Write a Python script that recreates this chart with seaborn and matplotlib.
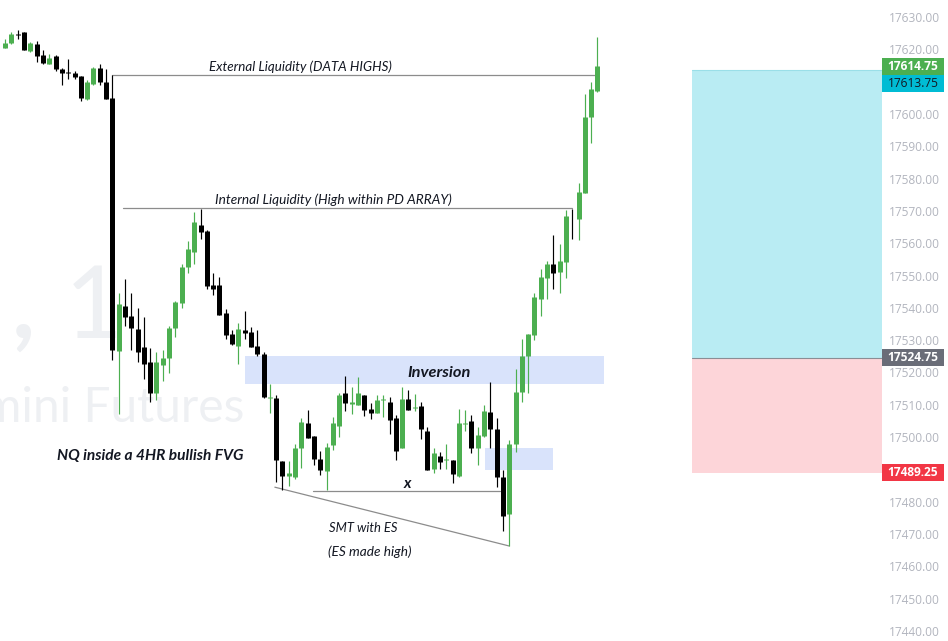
import matplotlib
matplotlib.use("Agg")
import matplotlib.pyplot as plt
from matplotlib.patches import Rectangle
from matplotlib.transforms import blended_transform_factory
import numpy as np
import pandas as pd
import seaborn as sns

opens = [17622,17620.5,17622,17624.75,17625.25,17619.5,17621.75,17618.25,17615.5,17618,17614,17613,17612.75,17611.75,17604.75,17609.25,17614.25,17610,
 17605,17526.75,17540.5,17537.5,17533.5,17527.75,17523.25,17513.75,17522.25,17524.5,17533.75,17541.5,17552.5,17557.25,17565.75,17563.75,17547,17547,17538.25,17531.75,
 17528.25,17533,17532.5,17528.25,17525.75,17512,17512,17492.5,17488,17487.75,17496.5,17504.5,17500.25,17493.25,17489.5,17497.5,17503.5,17513.75,17510.25,17510,
 17513,17508.75,17507.5,17511.5,17510.75,17506,17496.5,17511.75,17509,17509.5,17501.75,17490,17494.25,17493,17493,17488,17504,17505,17496.5,17500.25,
 17507.75,17502.5,17487.75,17476.25,17498,17514,17525,17531.5,17542.75,17549.25,17553.5,17551,17554.25,17568.25,17567.5,17575.5,17599,17607]
highs = [17622,17623.25,17625.25,17626,17625.25,17622.25,17622.5,17619.75,17618.5,17618.25,17614.25,17617,17613.25,17611.75,17610.5,17614.5,17615.5,17614,
 17612,17544.5,17549,17544.5,17540,17537.25,17527.5,17526.25,17527,17534.5,17542.25,17553.5,17560.75,17569.75,17570.5,17564,17550.75,17549.5,17539.5,17533,
 17535.25,17539,17534,17533,17526.25,17516.5,17513,17492.5,17492.5,17498,17506,17508.5,17500.25,17495.75,17498.25,17506.25,17513.75,17519,17515.5,17518.75,
 17513,17510.5,17513,17513,17512.5,17506.75,17515.5,17514.5,17513.25,17510.75,17503,17496.75,17495.5,17498,17493,17508.75,17508.5,17506.75,17503,17510,
 17517,17506,17489.75,17499,17521,17530.5,17532,17544.5,17552,17554.5,17562.5,17559.75,17570.25,17570.5,17578.75,17606.25,17610,17623.75]
lows = [17620.5,17620.5,17621.75,17623.25,17619.75,17619.25,17616,17615.5,17615.5,17613.25,17609,17610.75,17610.75,17604,17604.25,17609,17609,17604.75,
 17523.75,17507.25,17534.5,17527,17523.25,17518,17510.75,17511.5,17517.25,17519.75,17531,17540,17550.75,17553.5,17561.25,17545.75,17544,17537.75,17530.5,17528.5,
 17522.75,17530.5,17527.75,17525,17512,17507.5,17486,17483.5,17485,17487,17490.5,17499.75,17491.5,17488.25,17483.75,17496,17500,17508,17507.25,17510,
 17506.5,17505.5,17507.5,17506.25,17501,17493,17496.5,17508.5,17508,17499.5,17489.75,17489,17490,17490,17485.75,17487.75,17502,17495,17491.5,17500,
 17496.75,17484.5,17471,17466.25,17495.5,17510.75,17513.75,17530,17537.5,17542.75,17545.75,17544.5,17549.25,17561.25,17561,17575.5,17591,17606.75]
closes = [17620.5,17622,17624.75,17624.5,17619.75,17622,17618,17615.75,17617.25,17614,17612.75,17612.75,17611.5,17605,17610,17614.25,17610,17604.75,
 17527,17541.25,17537.25,17533.75,17526.25,17522.75,17513.75,17523.25,17524.5,17533.75,17541.75,17552.5,17558.25,17566.5,17563.5,17546.75,17545.75,17537.75,17531.5,17528.75,
 17533.5,17532.25,17528,17525.75,17512.5,17512.5,17493,17488,17489,17496.75,17504.75,17499.75,17493.25,17489.75,17497,17504.5,17513,17510.5,17510.75,17513.75,
 17508.5,17507.5,17511.5,17511.75,17505.25,17495.75,17511.75,17508.5,17509.25,17502.5,17489.75,17495,17492.25,17493.25,17488.5,17504.5,17504.5,17496.75,17500.75,17508,
 17502.5,17487.75,17475.5,17498,17514,17525,17531.75,17543.25,17549.5,17553.5,17550.75,17554.5,17568.5,17568,17575.75,17599,17607.75,17614.75]

# 17610 and 17490 are covered by price tags in the reference
price_ticks = [17440, 17450, 17460, 17470, 17480, 17500, 17510, 17520, 17530, 17540, 17550,
               17560, 17570, 17580, 17590, 17600, 17620, 17630]
tag_prices = [17614.75, 17613.75, 17524.75, 17489.25]
tag_colors = ["#4caf50", "#00bcd4", "#6a6d78", "#f23645"]
tag_text_colors = ["white", "#131722", "white", "white"]

GREEN = "#4caf50"
sns.set_theme(style="white", rc={"axes.facecolor": "white", "figure.facecolor": "white"})
ANNOT = "Lato"
AXF = "Open Sans"

fig = plt.figure(figsize=(9.48, 6.41), dpi=100)
ax = fig.add_axes([0, 0, 882 / 948, 1])
ax.set_xlim(0.175, 140.17)
ax.set_ylim(17436.9, 17635.26)

# watermark
WM = "#eef0f3"
ax.text(-2.68, 17504.7, "mini Futures", fontsize=34.5, color=WM, family=ANNOT, ha="left", va="baseline", zorder=0, clip_on=True)
ax.text(2.0, 17530.7, ",", fontsize=72, color=WM, family=ANNOT, fontweight="bold", ha="left", va="baseline", zorder=0)
ax.text(10.5, 17530.7, "1", fontsize=72, color=WM, family=ANNOT, ha="left", va="baseline", zorder=0)

# zones
ax.add_patch(Rectangle((39.03, 17516.4), 57.0, 8.7, color="#d9e3fb", lw=0, zorder=1))
ax.add_patch(Rectangle((77.15, 17489.8), 10.8, 6.8, color="#d9e3fb", lw=0, zorder=1))
ax.add_patch(Rectangle((110, 17524.5), 30.17, 17613.5 - 17524.5, color="#b9ecf3", lw=0, zorder=1))
ax.add_patch(Rectangle((110, 17488.9), 30.17, 17524.5 - 17488.9, color="#fdd5d9", lw=0, zorder=1))
ax.plot([110, 140.17], [17524.5, 17524.5], color="#8a8d94", lw=0.8, zorder=1.5)
ax.plot([110, 140.17], [17613.5, 17613.5], color="#9adfe8", lw=0.8, zorder=1.5)

# reference lines
line = dict(color="#8c8c8c", lw=0.9, zorder=2)
ax.plot([18, 95], [17612, 17612], **line)
ax.plot([19.7, 91], [17570.9, 17570.9], **line)
ax.plot([49.85, 79.5], [17483.3, 17483.3], **line)
ax.plot([43.8, 81], [17484.5, 17466.3], **line)

# candles through seaborn
idx = np.arange(len(opens))
direction = np.where(np.array(closes) >= np.array(opens), "up", "down")
pal = {"up": GREEN, "down": "#000000"}
wicks = pd.DataFrame({"i": np.r_[idx, idx], "price": np.r_[lows, highs], "dir": np.r_[direction, direction]})
bodies = pd.DataFrame({"i": np.r_[idx, idx], "price": np.r_[opens, closes], "dir": np.r_[direction, direction]})
sns.lineplot(data=wicks, x="i", y="price", hue="dir", units="i", estimator=None, palette=pal,
             linewidth=0.85, legend=False, ax=ax, solid_capstyle="butt", zorder=3, sort=False)
sns.lineplot(data=bodies, x="i", y="price", hue="dir", units="i", estimator=None, palette=pal,
             linewidth=3.6, legend=False, ax=ax, solid_capstyle="butt", zorder=4, sort=False)

# annotations
anno = dict(family=ANNOT, style="italic", color="#131722", ha="center", va="center", zorder=6)
ax.text(47.8, 17614.5, "External Liquidity (DATA HIGHS)", fontsize=9.65, **anno)
ax.text(53.1, 17573.4, "Internal Liquidity (High within PD ARRAY)", fontsize=9.8, **anno)
ax.text(69.8, 17519.8, "Inversion", fontsize=11.8, fontweight="bold", **anno)
ax.text(24.0, 17494.2, "NQ inside a 4HR bullish FVG", fontsize=11.2, fontweight="bold", **anno)
ax.text(64.9, 17485.5, "x", fontsize=11, fontweight="bold", **anno)
ax.text(57.8, 17471.9, "SMT with ES", fontsize=9.4, **anno)
ax.text(58.9, 17464.4, "(ES made high)", fontsize=9.8, **anno)

# price axis
ax.yaxis.tick_right()
ax.set_yticks(price_ticks)
ax.set_yticklabels([f"{v:.2f}" for v in price_ticks], color="#b2b5be", fontsize=8.6, family=AXF)
ax.tick_params(axis="y", length=0, pad=5)
ax.set_xticks([])
ax.set_xlabel("")
ax.set_ylabel("")
for s in ax.spines.values():
    s.set_visible(False)

# price tags: label centres sit where the reference stacks them
tr = blended_transform_factory(ax.transAxes, ax.transData)
tag_w = 62 / 882
tag_h = 17 * 0.30945
tag_centres = [17614.75, 17609.5, 17524.5, 17488.9]
for p, yc, col, tc in zip(tag_prices, tag_centres, tag_colors, tag_text_colors):
    ax.add_patch(Rectangle((1.0, yc - tag_h / 2), tag_w, tag_h, transform=tr, color=col, lw=0, clip_on=False, zorder=7))
    ax.text(1.0 + tag_w / 2, yc, f"{p:.2f}", transform=tr, color=tc, fontsize=8.6, fontweight="bold" if tc == "white" else "normal",
            family=AXF, ha="center", va="center", clip_on=False, zorder=8)

fig.savefig("out.png", dpi=100)
